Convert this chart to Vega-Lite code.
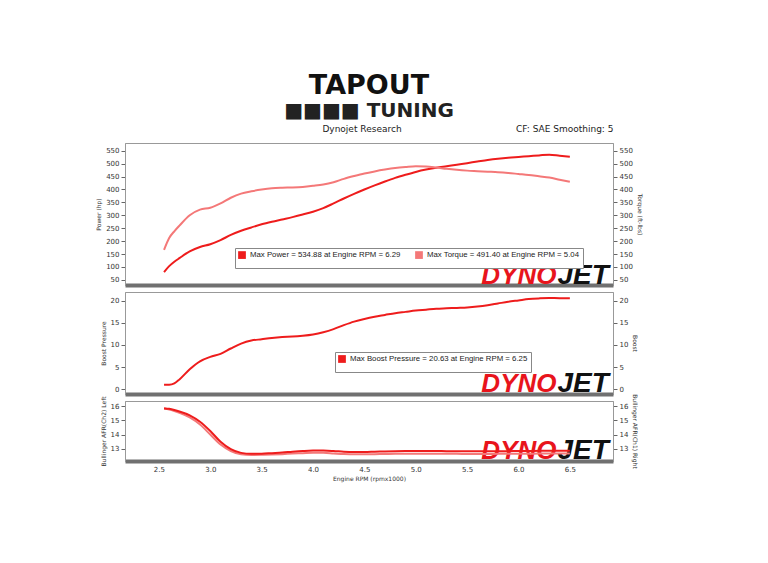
{
  "$schema": "https://vega.github.io/schema/vega-lite/v6.json",
  "background": "white",
  "padding": {"left": 95, "top": 71, "right": 5, "bottom": 5},
  "bounds": "flush",
  "title": {"text": "TAPOUT", "subtitle": "■■■■ TUNING", "anchor": "middle", "fontSize": 27, "font": "DejaVu Sans", "fontWeight": "bold", "color": "#111", "subtitleFontSize": 20, "subtitleFont": "DejaVu Sans", "subtitleFontWeight": "bold", "subtitleColor": "#222", "subtitlePadding": 1, "offset": 2},
  "datasets": {
    "dyno": [
      {"rpm": 2.55, "power": 80, "torque": 166, "boost": 1.0, "afr1": 15.85, "afr2": 15.8},
      {"rpm": 2.6, "power": 103, "torque": 212, "boost": 1.0, "afr1": 15.8, "afr2": 15.75},
      {"rpm": 2.65, "power": 120, "torque": 238, "boost": 1.3, "afr1": 15.72, "afr2": 15.65},
      {"rpm": 2.7, "power": 134, "torque": 260, "boost": 2.2, "afr1": 15.62, "afr2": 15.52},
      {"rpm": 2.8, "power": 160, "torque": 300, "boost": 4.5, "afr1": 15.35, "afr2": 15.2},
      {"rpm": 2.9, "power": 177, "torque": 322, "boost": 6.3, "afr1": 14.9, "afr2": 14.7},
      {"rpm": 3.0, "power": 188, "torque": 329, "boost": 7.3, "afr1": 14.25, "afr2": 14.0},
      {"rpm": 3.1, "power": 204, "torque": 346, "boost": 8.0, "afr1": 13.5, "afr2": 13.3},
      {"rpm": 3.2, "power": 224, "torque": 368, "boost": 9.2, "afr1": 12.98, "afr2": 12.85},
      {"rpm": 3.3, "power": 240, "torque": 384, "boost": 10.3, "afr1": 12.72, "afr2": 12.62},
      {"rpm": 3.4, "power": 253, "torque": 393, "boost": 11.0, "afr1": 12.65, "afr2": 12.57},
      {"rpm": 3.5, "power": 265, "torque": 400, "boost": 11.3, "afr1": 12.66, "afr2": 12.58},
      {"rpm": 3.6, "power": 275, "torque": 405, "boost": 11.6, "afr1": 12.7, "afr2": 12.6},
      {"rpm": 3.7, "power": 284, "torque": 407, "boost": 11.8, "afr1": 12.74, "afr2": 12.63},
      {"rpm": 3.8, "power": 293, "torque": 408, "boost": 11.9, "afr1": 12.8, "afr2": 12.67},
      {"rpm": 3.9, "power": 303, "torque": 410, "boost": 12.1, "afr1": 12.85, "afr2": 12.7},
      {"rpm": 4.0, "power": 314, "torque": 414, "boost": 12.4, "afr1": 12.88, "afr2": 12.73},
      {"rpm": 4.1, "power": 328, "torque": 419, "boost": 12.9, "afr1": 12.88, "afr2": 12.72},
      {"rpm": 4.2, "power": 346, "torque": 428, "boost": 13.6, "afr1": 12.85, "afr2": 12.68},
      {"rpm": 4.3, "power": 365, "torque": 441, "boost": 14.5, "afr1": 12.8, "afr2": 12.64},
      {"rpm": 4.4, "power": 383, "torque": 452, "boost": 15.3, "afr1": 12.78, "afr2": 12.62},
      {"rpm": 4.5, "power": 400, "torque": 462, "boost": 15.9, "afr1": 12.78, "afr2": 12.62},
      {"rpm": 4.6, "power": 416, "torque": 470, "boost": 16.4, "afr1": 12.8, "afr2": 12.63},
      {"rpm": 4.7, "power": 431, "torque": 477, "boost": 16.8, "afr1": 12.82, "afr2": 12.64},
      {"rpm": 4.8, "power": 445, "torque": 483, "boost": 17.2, "afr1": 12.84, "afr2": 12.65},
      {"rpm": 4.9, "power": 457, "torque": 487, "boost": 17.5, "afr1": 12.85, "afr2": 12.65},
      {"rpm": 5.0, "power": 468, "torque": 490, "boost": 17.8, "afr1": 12.85, "afr2": 12.65},
      {"rpm": 5.1, "power": 477, "torque": 489, "boost": 18.0, "afr1": 12.85, "afr2": 12.66},
      {"rpm": 5.2, "power": 484, "torque": 485, "boost": 18.2, "afr1": 12.85, "afr2": 12.66},
      {"rpm": 5.3, "power": 490, "torque": 480, "boost": 18.3, "afr1": 12.84, "afr2": 12.65},
      {"rpm": 5.4, "power": 496, "torque": 476, "boost": 18.4, "afr1": 12.84, "afr2": 12.65},
      {"rpm": 5.5, "power": 502, "torque": 473, "boost": 18.5, "afr1": 12.83, "afr2": 12.64},
      {"rpm": 5.6, "power": 508, "torque": 471, "boost": 18.7, "afr1": 12.83, "afr2": 12.64},
      {"rpm": 5.7, "power": 514, "torque": 469, "boost": 19.0, "afr1": 12.83, "afr2": 12.64},
      {"rpm": 5.8, "power": 519, "torque": 467, "boost": 19.4, "afr1": 12.84, "afr2": 12.65},
      {"rpm": 5.9, "power": 523, "torque": 464, "boost": 19.8, "afr1": 12.84, "afr2": 12.65},
      {"rpm": 6.0, "power": 526, "torque": 460, "boost": 20.1, "afr1": 12.85, "afr2": 12.66},
      {"rpm": 6.1, "power": 529, "torque": 456, "boost": 20.4, "afr1": 12.85, "afr2": 12.66},
      {"rpm": 6.2, "power": 532, "torque": 451, "boost": 20.55, "afr1": 12.86, "afr2": 12.67},
      {"rpm": 6.3, "power": 534.9, "torque": 446, "boost": 20.63, "afr1": 12.86, "afr2": 12.67},
      {"rpm": 6.4, "power": 531, "torque": 438, "boost": 20.6, "afr1": 12.86, "afr2": 12.68},
      {"rpm": 6.5, "power": 527, "torque": 430, "boost": 20.6, "afr1": 12.87, "afr2": 12.68}
    ],
    "mark": [{"logo": "Dynojet"}]
  },
  "spacing": 7,
  "resolve": {"scale": {"color": "independent"}, "legend": {"color": "independent"}},
  "vconcat": [
    {
      "width": 488,
      "height": 142,
      "title": {"text": "Dynojet Research", "fontSize": 9, "fontWeight": "normal", "font": "DejaVu Sans", "anchor": "middle", "dx": -7, "offset": -10, "color": "#222"},
      "layer": [
        {
          "data": {"name": "mark"},
          "mark": {"type": "text", "text": "DYNO", "font": "Liberation Sans", "fontStyle": "italic", "fontWeight": "bold", "fontSize": 26, "color": "#e8141c", "align": "right", "baseline": "alphabetic"},
          "encoding": {
            "x": {"datum": 6.37, "type": "quantitative", "scale": {"domain": [2.17, 6.92]}, "axis": null},
            "y": {"datum": 34, "type": "quantitative", "scale": {"domain": [30, 580], "nice": false}, "axis": null}
          }
        },
        {
          "data": {"name": "mark"},
          "mark": {"type": "text", "text": "JET", "font": "Liberation Sans", "fontStyle": "italic", "fontWeight": "bold", "fontSize": 28, "color": "#111", "align": "left", "baseline": "alphabetic"},
          "encoding": {
            "x": {"datum": 6.38, "type": "quantitative", "scale": {"domain": [2.17, 6.92]}, "axis": null},
            "y": {"datum": 34, "type": "quantitative", "scale": {"domain": [30, 580], "nice": false}, "axis": null}
          }
        },
        {
          "data": {"name": "dyno"},
          "mark": {"type": "line", "strokeWidth": 2, "interpolate": "monotone"},
          "encoding": {
            "x": {"field": "rpm", "type": "quantitative", "scale": {"domain": [2.17, 6.92]}, "axis": {"orient": "bottom", "labels": false, "ticks": false, "title": null, "domainWidth": 4, "domainColor": "#707070", "values": [2.5, 3.0, 3.5, 4.0, 4.5, 5.0, 5.5, 6.0, 6.5]}},
            "y": {"field": "power", "type": "quantitative", "scale": {"domain": [30, 580], "nice": false}, "axis": {"orient": "left", "title": "Power (hp)", "values": [50, 100, 150, 200, 250, 300, 350, 400, 450, 500, 550]}},
            "color": {"datum": "Power", "scale": {"domain": ["Power", "Torque"], "range": ["#ee1c1c", "#f47878"]},
              "legend": {"orient": "none", "legendX": 110, "legendY": 105, "direction": "horizontal", "title": null, "fillColor": "white", "strokeColor": "#888", "padding": 3, "labelFontSize": 7.8, "labelFont": "Liberation Sans", "labelColor": "#222", "labelLimit": 300, "symbolType": "square", "symbolSize": 14, "symbolStrokeWidth": 4, "columnPadding": 8,
                "labelExpr": "datum.label == 'Power' ? 'Max Power = 534.88 at Engine RPM = 6.29' : 'Max Torque = 491.40 at Engine RPM = 5.04'"}}
          }
        },
        {
          "data": {"name": "dyno"},
          "mark": {"type": "line", "strokeWidth": 2, "interpolate": "monotone"},
          "encoding": {
            "x": {"field": "rpm", "type": "quantitative", "scale": {"domain": [2.17, 6.92]}, "axis": {"orient": "top", "labels": false, "ticks": false, "domain": false, "grid": false, "title": "CF: SAE Smoothing: 5", "titleAnchor": "end", "titleFontSize": 9, "titleFont": "DejaVu Sans", "titleColor": "#222", "titlePadding": 10}},
            "y": {"field": "torque", "type": "quantitative", "scale": {"domain": [30, 580], "nice": false}, "axis": {"orient": "right", "title": "Torque (ft-lbs)", "grid": false, "values": [50, 100, 150, 200, 250, 300, 350, 400, 450, 500, 550]}},
            "color": {"datum": "Torque"}
          }
        }
      ],
      "resolve": {"scale": {"x": "independent", "y": "independent"}}
    },
    {
      "width": 488,
      "height": 102,
      "layer": [
        {
          "data": {"name": "mark"},
          "mark": {"type": "text", "text": "DYNO", "font": "Liberation Sans", "fontStyle": "italic", "fontWeight": "bold", "fontSize": 26, "color": "#e8141c", "align": "right", "baseline": "alphabetic"},
          "encoding": {
            "x": {"datum": 6.37, "type": "quantitative", "scale": {"domain": [2.17, 6.92]}, "axis": null},
            "y": {"datum": -0.7, "type": "quantitative", "scale": {"domain": [-1.1, 22], "nice": false}, "axis": null}
          }
        },
        {
          "data": {"name": "mark"},
          "mark": {"type": "text", "text": "JET", "font": "Liberation Sans", "fontStyle": "italic", "fontWeight": "bold", "fontSize": 28, "color": "#111", "align": "left", "baseline": "alphabetic"},
          "encoding": {
            "x": {"datum": 6.38, "type": "quantitative", "scale": {"domain": [2.17, 6.92]}, "axis": null},
            "y": {"datum": -0.7, "type": "quantitative", "scale": {"domain": [-1.1, 22], "nice": false}, "axis": {"orient": "right", "title": "Boost", "grid": false, "values": [0, 5, 10, 15, 20]}}
          }
        },
        {
          "data": {"name": "dyno"},
          "mark": {"type": "line", "strokeWidth": 2, "interpolate": "monotone"},
          "encoding": {
            "x": {"field": "rpm", "type": "quantitative", "scale": {"domain": [2.17, 6.92]}, "axis": {"orient": "bottom", "labels": false, "ticks": false, "title": null, "domainWidth": 4, "domainColor": "#707070", "values": [2.5, 3.0, 3.5, 4.0, 4.5, 5.0, 5.5, 6.0, 6.5]}},
            "y": {"field": "boost", "type": "quantitative", "scale": {"domain": [-1.1, 22], "nice": false}, "axis": {"orient": "left", "title": "Boost Pressure", "values": [0, 5, 10, 15, 20]}},
            "color": {"datum": "Boost", "scale": {"domain": ["Boost"], "range": ["#ee1c1c"]},
              "legend": {"orient": "none", "legendX": 210, "legendY": 60, "direction": "horizontal", "title": null, "fillColor": "white", "strokeColor": "#888", "padding": 3, "labelFontSize": 7.8, "labelFont": "Liberation Sans", "labelColor": "#222", "labelLimit": 300, "symbolType": "square", "symbolSize": 14, "symbolStrokeWidth": 4,
                "labelExpr": "'Max Boost Pressure = 20.63 at Engine RPM = 6.25'"}}
          }
        }
      ],
      "resolve": {"scale": {"x": "independent", "y": "independent"}}
    },
    {
      "width": 488,
      "height": 60,
      "layer": [
        {
          "data": {"name": "mark"},
          "mark": {"type": "text", "text": "DYNO", "font": "Liberation Sans", "fontStyle": "italic", "fontWeight": "bold", "fontSize": 26, "color": "#e8141c", "align": "right", "baseline": "alphabetic"},
          "encoding": {
            "x": {"datum": 6.37, "type": "quantitative", "scale": {"domain": [2.17, 6.92]}, "axis": null},
            "y": {"datum": 12.3, "type": "quantitative", "scale": {"domain": [12.15, 16.35], "nice": false}, "axis": null}
          }
        },
        {
          "data": {"name": "mark"},
          "mark": {"type": "text", "text": "JET", "font": "Liberation Sans", "fontStyle": "italic", "fontWeight": "bold", "fontSize": 28, "color": "#111", "align": "left", "baseline": "alphabetic"},
          "encoding": {
            "x": {"datum": 6.38, "type": "quantitative", "scale": {"domain": [2.17, 6.92]}, "axis": null},
            "y": {"datum": 12.3, "type": "quantitative", "scale": {"domain": [12.15, 16.35], "nice": false}, "axis": {"orient": "right", "title": "Bullinger AFR(Ch1) Right", "grid": false, "values": [13, 14, 15, 16]}}
          }
        },
        {
          "data": {"name": "dyno"},
          "mark": {"type": "line", "strokeWidth": 2, "interpolate": "monotone", "color": "#f47878"},
          "encoding": {
            "x": {"field": "rpm", "type": "quantitative", "scale": {"domain": [2.17, 6.92]}, "axis": null},
            "y": {"field": "afr2", "type": "quantitative", "scale": {"domain": [12.15, 16.35], "nice": false}, "axis": null}
          }
        },
        {
          "data": {"name": "dyno"},
          "mark": {"type": "line", "strokeWidth": 2, "interpolate": "monotone", "color": "#ee1c1c"},
          "encoding": {
            "x": {"field": "rpm", "type": "quantitative", "scale": {"domain": [2.17, 6.92]}, "axis": {"orient": "bottom", "title": "Engine RPM (rpmx1000)", "ticks": false, "domainWidth": 4, "domainColor": "#707070", "format": ".1f", "labelPadding": 4, "titlePadding": 3, "values": [2.5, 3.0, 3.5, 4.0, 4.5, 5.0, 5.5, 6.0, 6.5]}},
            "y": {"field": "afr1", "type": "quantitative", "scale": {"domain": [12.15, 16.35], "nice": false}, "axis": {"orient": "left", "title": "Bullinger AFR(Ch2) Left", "values": [13, 14, 15, 16]}}
          }
        }
      ],
      "resolve": {"scale": {"x": "independent", "y": "independent"}}
    }
  ],
  "config": {
    "font": "DejaVu Sans",
    "view": {"stroke": "#999", "strokeWidth": 1},
    "axis": {"labelFontSize": 7, "labelColor": "#333", "labelFont": "DejaVu Sans", "titleFontSize": 6, "titleFontWeight": "normal", "titleColor": "#333", "titleFont": "DejaVu Sans", "gridDash": [1.5, 1.5], "gridColor": "#777", "gridOpacity": 0.8, "tickColor": "#666", "tickSize": 4, "domainColor": "#999", "labelPadding": 2, "titlePadding": 4}
  }
}
